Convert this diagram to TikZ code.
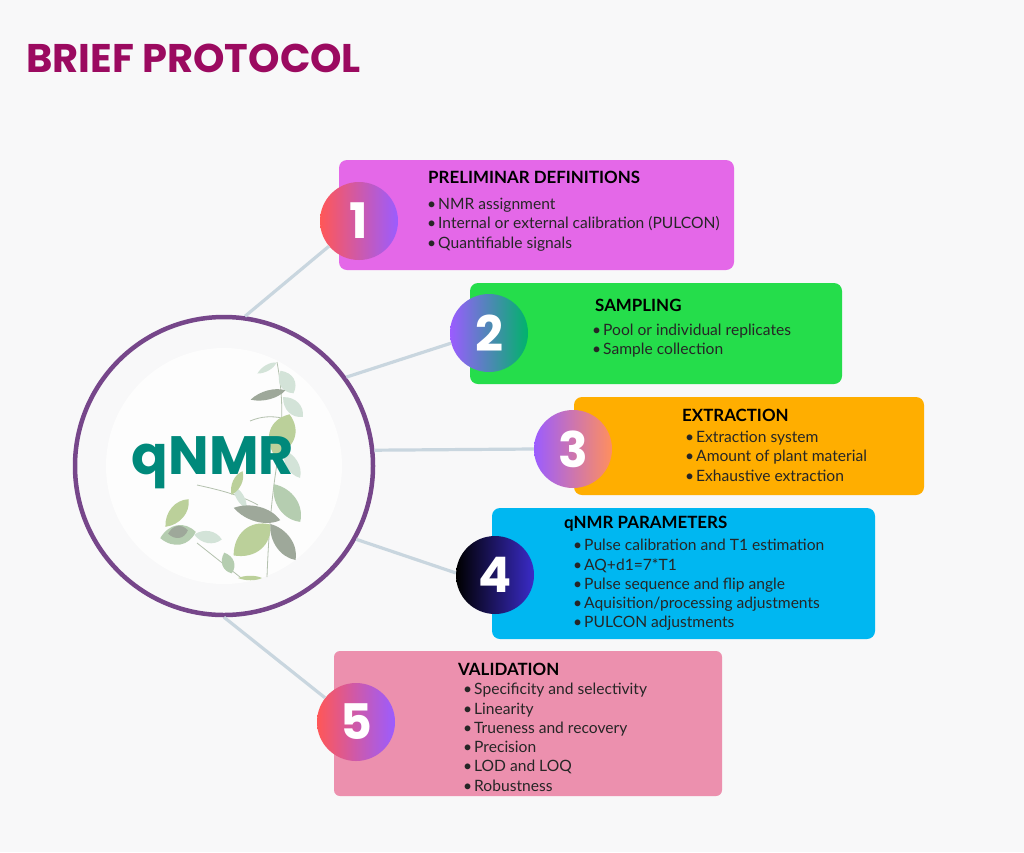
\documentclass[tikz,border=0pt]{standalone}
\usepackage{fontspec}
\setmainfont{Lato}
\newfontfamily\headfont{Poppins}
\definecolor{pagegrey}{HTML}{F8F8F9}
\definecolor{plum}{HTML}{9B0A60}
\definecolor{ringviolet}{HTML}{76468A}
\definecolor{tealtext}{HTML}{00897B}
\definecolor{linkgrey}{HTML}{C9D6DF}
\definecolor{boxa}{HTML}{E468E8}
\definecolor{boxb}{HTML}{25DD4B}
\definecolor{boxc}{HTML}{FFAE00}
\definecolor{boxd}{HTML}{00B7F1}
\definecolor{boxe}{HTML}{EC90AE}
\definecolor{coral}{HTML}{FF5757}
\definecolor{lilac}{HTML}{9B5CFF}
\definecolor{salmon}{HTML}{FF8F5E}
\definecolor{seagreen}{HTML}{00B36B}
\definecolor{indigo}{HTML}{3A2BC8}
\definecolor{leafa}{HTML}{B5CDB0}
\definecolor{leafb}{HTML}{9EA89A}
\definecolor{leafc}{HTML}{BBD09A}
\definecolor{leafd}{HTML}{D3E3D8}
\definecolor{stemgrey}{HTML}{B4C1AE}
\tikzset{
	card/.style={rounded corners=8pt,inner sep=0pt},
	badge/.style={circle,minimum size=78pt,inner sep=0pt,text=white,font=\headfont\bfseries\fontsize{49}{49}\selectfont},
	link/.style={linkgrey,line width=3.2pt},
	cardhead/.style={anchor=west,inner sep=0pt,font=\bfseries\fontsize{16.9}{20}\selectfont},
	cardlist/.style={anchor=north west,inner sep=0pt,align=left,text=black!85,font=\fontsize{15.6}{19.3}\selectfont},
}
\newcommand{\itm}{\makebox[11pt][l]{\textbullet}}
\begin{document}
\begin{tikzpicture}[x=1pt,y=-1pt]
	\def\leaf(#1,#2,#3,#4,#5,#6){\fill[#6,shift={(#1,#2)},rotate=#3](-#4,0)..controls(-#4*0.4,-#5)and(#4*0.5,-#5)..(#4,0)..controls(#4*0.5,#5)and(-#4*0.4,#5)..cycle;}%
	\useasboundingbox(0,0)rectangle(1024,852);
	\fill[pagegrey](0,0)rectangle(1024,852);
	\node[anchor=west,inner sep=0pt,text=plum,font=\headfont\bfseries\fontsize{40}{40}\selectfont](title)at(26,58){BRIEF PROTOCOL};

	% centre
	\node[circle,minimum size=236pt,inner sep=0pt,fill=white!70!pagegrey](disc)at(224,466){};
	\draw[stemgrey,line width=.8pt]
		(277,362)..controls(284,400)and(283,430)..(276,470)..controls(270,510)and(268,550)..(267,577)
		(197,543)--(240,577)
		(250,421)..controls(262,416)and(272,416)..(282,418)
		(197,485)..controls(220,490)and(240,495)..(258,505);
	\leaf(287,382,-60,13,10,leafd)
	\leaf(267,368,30,11,4,leafd)
	\leaf(268,395,15,18,6,leafb)
	\leaf(293,407,-45,14,9,leafd)
	\leaf(282,435,70,22,17,leafc)
	\leaf(292,464,-60,16,8,leafd)
	\leaf(240,497,-60,13,5,leafd)
	\leaf(237,483,65,13,6,leafc)
	\leaf(287,503,-55,23,13,leafa)
	\leaf(252,540,40,24,17,leafc)
	\leaf(257,514,-15,24,10,leafb)
	\leaf(283,542,-55,22,11,leafb)
	\leaf(177,513,50,18,10,leafc)
	\leaf(178,535,10,18,13,leafa)
	\leaf(178,532,10,10,8,leafb)
	\leaf(208,537,-10,14,8,leafd)
	\leaf(228,563,-70,11,8,leafa)
	\leaf(250,578,0,12,3,leafc)
	\node[circle,minimum size=298pt,inner sep=0pt,draw=ringviolet,line width=4.5pt](ring)at(224,466){};
	\node[inner sep=0pt,text=tealtext,font=\headfont\bfseries\fontsize{54}{54}\selectfont](core)at(213,463){qNMR};

	% cards
	\fill[boxa,card](339,160)rectangle(734,270);
	\fill[boxb,card](470,283)rectangle(842,384);
	\fill[boxc,card](574,397)rectangle(924,495);
	\fill[boxd,card](492,508)rectangle(875,639);
	\fill[boxe,rounded corners=6pt](334,651)rectangle(722,796);

	% numbers
	\node[badge,left color=coral,right color=lilac](one)at(359,221){1};
	\node[badge,left color=lilac,right color=seagreen](two)at(489,333){2};
	\node[badge,left color=lilac,right color=salmon](three)at(573,449){3};
	\node[badge,left color=black,right color=indigo](four)at(495,575){4};
	\node[badge,left color=coral,right color=lilac](five)at(356,722){5};

	\begin{scope}[link]
		\draw(ring.82)--(one.220);
		\draw(ring.36)--(two.195);
		\draw(ring.6)--(three.180);
		\draw(ring.-29)--(four.177);
		\draw(ring.-90)--(five.142);
	\end{scope}

	% texts
	\node[cardhead](heada)at(428,177){PRELIMINAR DEFINITIONS};
	\node[cardlist](lista)at(427,198){\itm NMR assignment\\\itm Internal or external calibration (PULCON)\\\itm Quantifiable signals};
	\node[cardhead](headb)at(595,305){SAMPLING};
	\node[cardlist](listb)at(592,324){\itm Pool or individual replicates\\\itm Sample collection};
	\node[cardhead](headc)at(682,415){EXTRACTION};
	\node[cardlist](listc)at(685,431){\itm Extraction system\\\itm Amount of plant material\\\itm Exhaustive extraction};
	\node[cardhead](headd)at(564,524){qNMR PARAMETERS};
	\node[cardlist](listd)at(573,539){\itm Pulse calibration and T1 estimation\\\itm AQ+d1=7*T1\\\itm Pulse sequence and flip angle\\\itm Aquisition/processing adjustments\\\itm PULCON adjustments};
	\node[cardhead](heade)at(458,669){VALIDATION};
	\node[cardlist](liste)at(463,683){\itm Specificity and selectivity\\\itm Linearity\\\itm Trueness and recovery\\\itm Precision\\\itm LOD and LOQ\\\itm Robustness};
\end{tikzpicture}
\end{document}
